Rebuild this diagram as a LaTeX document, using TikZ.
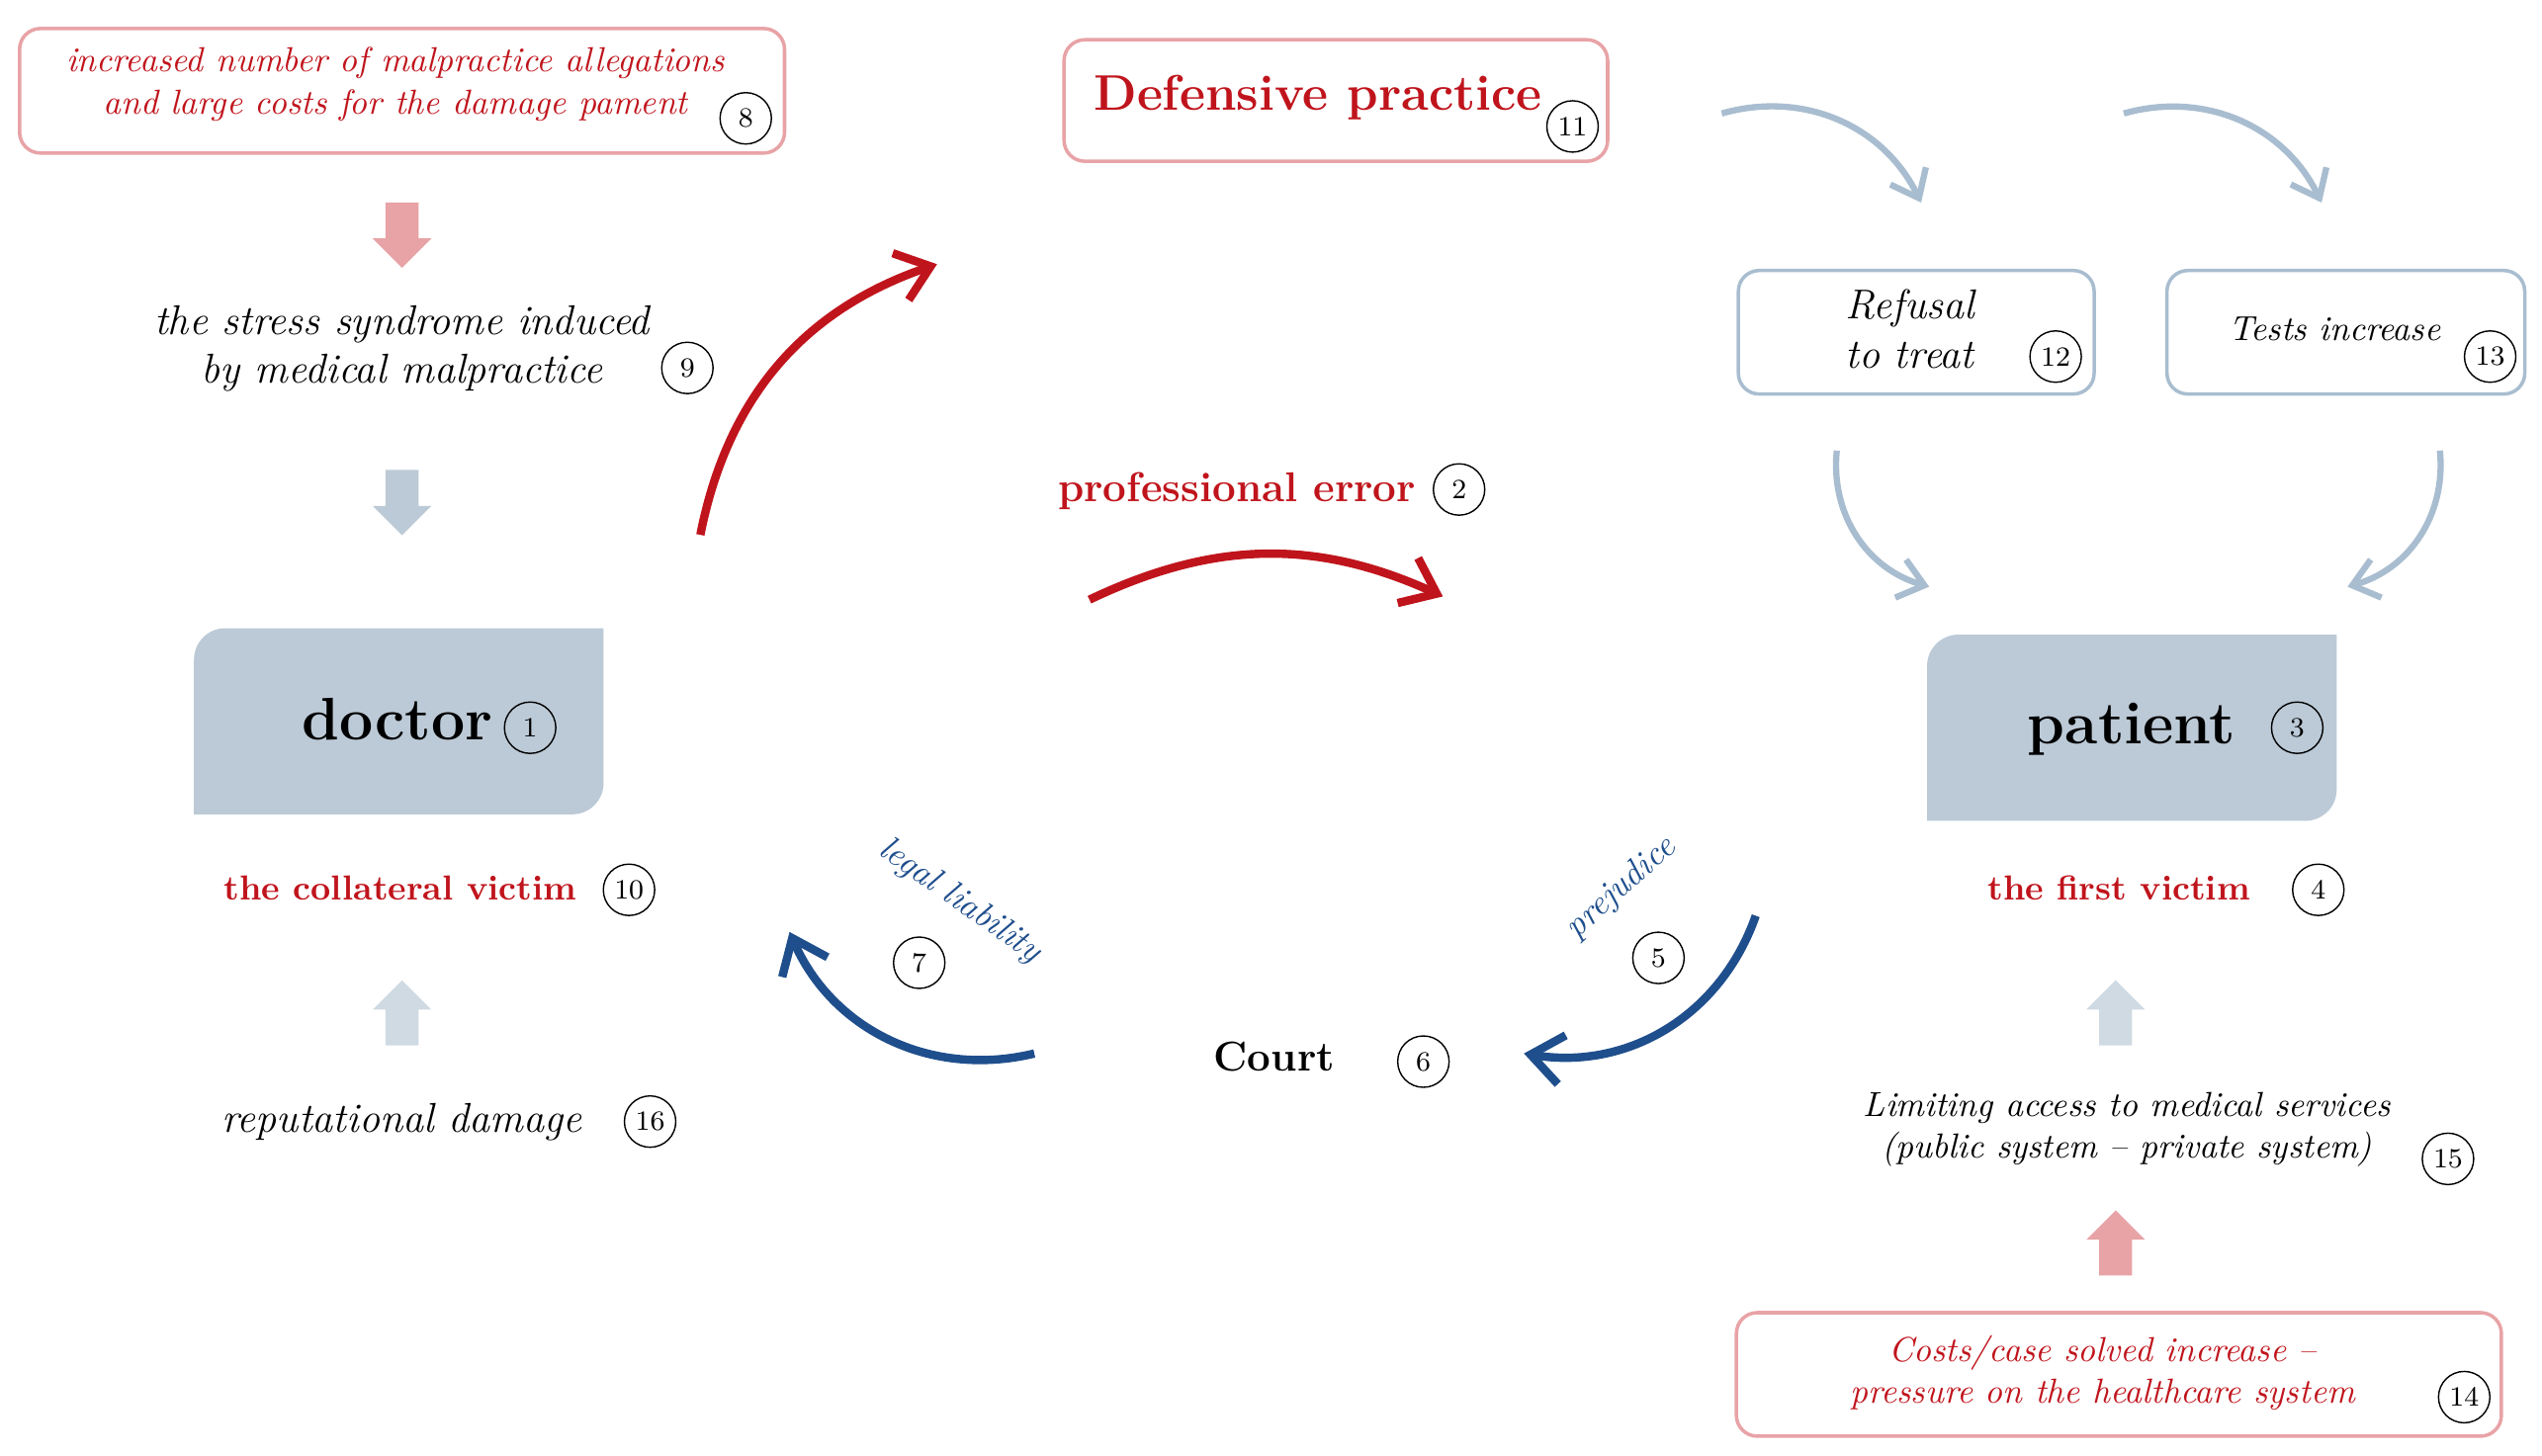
\documentclass[tikz,border=0pt]{standalone}
\usetikzlibrary{arrows.meta,shapes.arrows}
\definecolor{errred}{HTML}{C0141C}
\definecolor{pinkline}{HTML}{E8A3A6}
\definecolor{slate}{HTML}{BCCAD7}
\definecolor{navy}{HTML}{1F4E8C}
\definecolor{paleblue}{HTML}{A9BDD0}
\tikzset{
  redbox/.style={draw=pinkline, line width=1pt, rounded corners=6pt},
  greybox/.style={draw=paleblue, line width=1pt, rounded corners=6pt},
  num/.style={draw, circle, inner sep=0.6pt, minimum size=0.52cm, font=\footnotesize},
  redtxt/.style={text=errred, font=\itshape, align=center},
  bigarrow/.style={-{Straight Barb[length=3.2mm,width=5mm]}, line width=2.4pt},
  thinarrow/.style={-{Straight Barb[length=2.5mm,width=4mm]}, line width=1.8pt, paleblue},
  block/.style={single arrow, minimum height=0.66cm, single arrow head extend=0.13cm, inner sep=0.16cm, shape border rotate=#1},
  card/.style={minimum width=4.13cm, minimum height=1.87cm}
}
\begin{document}
\begin{tikzpicture}[x=0.0164cm, y=-0.0164cm]
    \useasboundingbox (0,0) rectangle (1568,898);

    % boxes on the top
    \node[redbox, minimum width=7.74cm, minimum height=1.26cm] (box8) at (248,56) {};
    \node[redtxt] (t8) at (244,52) {increased number of malpractice allegations\\and large costs for the damage pament};
    \node[num] (n8) at (460,73) {8};

    \node[redbox, minimum width=5.5cm, minimum height=1.23cm] (box11) at (824,62) {};
    \node[text=errred, font=\bfseries\Large] (t11) at (813,60) {Defensive practice};
    \node[num] (n11) at (970,78) {11};

    \node[greybox, minimum width=3.6cm, minimum height=1.25cm] (box12) at (1182,205) {};
    \node[font=\large\itshape, align=center] (t12) at (1178,203) {Refusal\\to treat};
    \node[num] (n12) at (1268,220) {12};

    \node[greybox, minimum width=3.62cm, minimum height=1.25cm] (box13) at (1447,205) {};
    \node[font=\itshape] (t13) at (1440,203) {Tests increase};
    \node[num] (n13) at (1536,220) {13};

    % doctor side
    \node[card] (doctor) at (246,445) {};
    \fill[slate] (doctor.south west) -- ([yshift=-9pt]doctor.north west)
        arc[start angle=180, end angle=90, radius=9pt] -- (doctor.north east)
        -- ([yshift=9pt]doctor.south east) arc[start angle=0, end angle=-90, radius=9pt] -- cycle;
    \node[font=\bfseries\LARGE] (t1) at (245,444) {doctor};
    \node[num] (n1) at (327,449) {1};

    \node[font=\large\itshape, align=center] (t9) at (248,215) {the stress syndrome induced\\by medical malpractice};
    \node[num] (n9) at (424,227) {9};

    \node[block=270, fill=pinkline] (a8) at (248,140) {};
    \node[block=270, fill=slate] (a9) at (248,305) {};
    \node[block=90, fill=slate!70] (a16) at (248,630) {};

    \node[text=errred, font=\bfseries] (t10) at (247,548) {the collateral victim};
    \node[num] (n10) at (388,549) {10};
    \node[font=\large\itshape] (t16) at (248,692) {reputational damage};
    \node[num] (n16) at (401,692) {16};

    % patient side
    \node[card] (patient) at (1315,449) {};
    \fill[slate] (patient.south west) -- ([yshift=-9pt]patient.north west)
        arc[start angle=180, end angle=90, radius=9pt] -- (patient.north east)
        -- ([yshift=9pt]patient.south east) arc[start angle=0, end angle=-90, radius=9pt] -- cycle;
    \node[font=\bfseries\LARGE] (t3) at (1315,450) {patient};
    \node[num] (n3) at (1417,449) {3};

    \node[text=errred, font=\bfseries] (t4) at (1307,548) {the first victim};
    \node[num] (n4) at (1430,549) {4};
    \node[block=90, fill=slate!70] (a15) at (1305,630) {};
    \node[font=\itshape, align=center] (t15) at (1312,697) {Limiting access to medical services\\(public system -- private system)};
    \node[num] (n15) at (1510,715) {15};
    \node[block=90, fill=pinkline] (a14) at (1305,772) {};

    \node[redbox, minimum width=7.74cm, minimum height=1.25cm] (box14) at (1307,848) {};
    \node[redtxt] (t14) at (1297,847) {Costs/case solved increase --\\pressure on the healthcare system};
    \node[num] (n14) at (1520,862) {14};

    % middle
    \node[text=errred, font=\bfseries\large] (t2) at (763,303) {professional error};
    \node[num] (n2) at (900,302) {2};
    \node[font=\bfseries\large] (t6) at (786,652) {Court};
    \node[num] (n6) at (878,655) {6};
    \node[text=navy, font=\itshape, rotate=42] (t5) at (1000,548) {prejudice};
    \node[num] (n5) at (1023,591) {5};
    \node[text=navy, font=\itshape, rotate=-35] (t7) at (592,556) {legal liability};
    \node[num] (n7) at (567,594) {7};

    % arrows
    \coordinate (r1s) at (432,330); \coordinate (r1e) at (578,163);
    \coordinate (r2s) at (672,370); \coordinate (r2e) at (890,368);
    \coordinate (b1s) at (1083,565); \coordinate (b1e) at (940,650);
    \coordinate (b2s) at (638,650); \coordinate (b2e) at (487,575);
    \draw[bigarrow, errred] (r1s) to[bend left=30] (r1e);
    \draw[bigarrow, errred] (r2s) to[bend left=25] (r2e);
    \draw[bigarrow, navy] (b1s) to[bend left=40] (b1e);
    \draw[bigarrow, navy] (b2s) to[bend left=40] (b2e);

    \coordinate (g1s) at (1062,70); \coordinate (g1e) at (1185,125);
    \coordinate (g2s) at (1310,70); \coordinate (g2e) at (1432,125);
    \coordinate (g3s) at (1133,278); \coordinate (g3e) at (1190,362);
    \coordinate (g4s) at (1505,278); \coordinate (g4e) at (1448,362);
    \draw[thinarrow] (g1s) to[bend left=40] (g1e);
    \draw[thinarrow] (g2s) to[bend left=40] (g2e);
    \draw[thinarrow] (g3s) to[bend right=40] (g3e);
    \draw[thinarrow] (g4s) to[bend left=40] (g4e);
\end{tikzpicture}
\end{document}
